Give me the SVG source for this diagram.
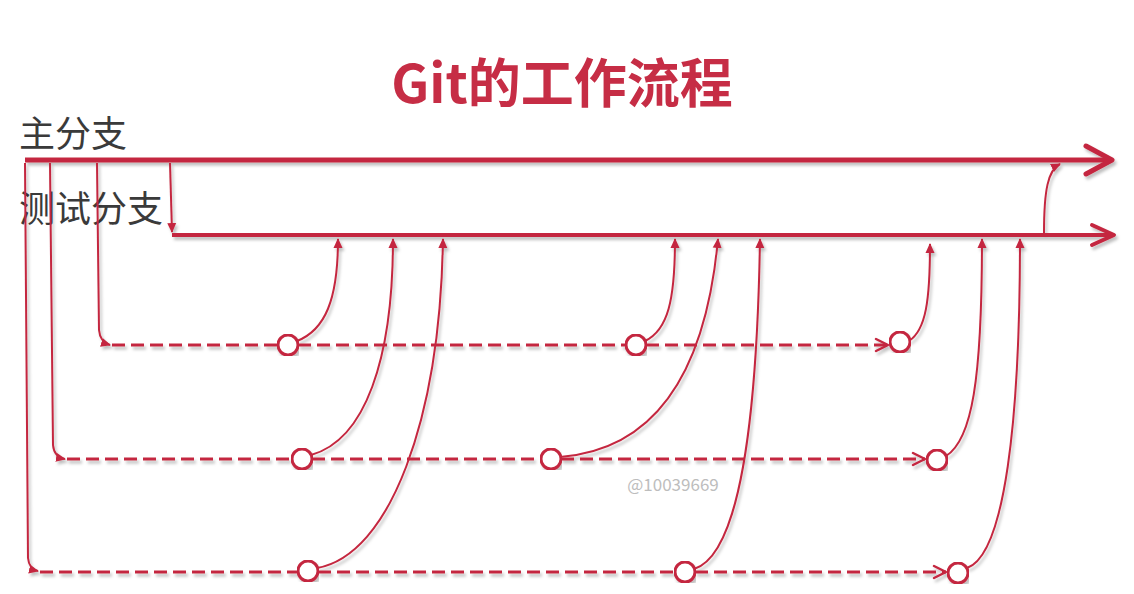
<svg xmlns="http://www.w3.org/2000/svg" width="1134" height="594" viewBox="0 0 1134 594">
<defs>
<filter id="sh" x="-5%" y="-5%" width="110%" height="110%">
<feDropShadow dx="2" dy="3" stdDeviation="1.5" flood-color="#000" flood-opacity="0.25"/>
</filter>
<marker id="big" markerWidth="40" markerHeight="40" refX="30" refY="20" markerUnits="userSpaceOnUse" orient="auto" overflow="visible">
<path d="M4,6 L30,20 L4,34" fill="none" stroke="#c4283f" stroke-width="5" stroke-linecap="round" stroke-linejoin="round"/>
</marker>
<marker id="mid" markerWidth="30" markerHeight="30" refX="26" refY="15" markerUnits="userSpaceOnUse" orient="auto" overflow="visible">
<path d="M4,5 L26,15 L4,25" fill="none" stroke="#c4283f" stroke-width="4" stroke-linecap="round" stroke-linejoin="round"/>
</marker>
<marker id="open" markerWidth="20" markerHeight="20" refX="14" refY="10" markerUnits="userSpaceOnUse" orient="auto" overflow="visible">
<path d="M2,4 L14,10 L2,16" fill="none" stroke="#c4283f" stroke-width="2.5" stroke-linecap="round" stroke-linejoin="round"/>
</marker>
<marker id="tri" markerWidth="10" markerHeight="10" refX="9" refY="5" markerUnits="userSpaceOnUse" orient="auto">
<path d="M0,0.5 L10,5 L0,9.5 z" fill="#c4283f"/>
</marker>
<style>
.t{font-family:"Noto Sans CJK SC","Noto Sans",sans-serif}
.lab{font-size:36px;fill:#3a3a3a}
.main{stroke:#c4283f;stroke-width:5;fill:none}
.test{stroke:#c4283f;stroke-width:4;fill:none}
.thin{stroke:#c4283f;stroke-width:2;fill:none}
.dash{stroke:#c4283f;stroke-width:3;fill:none;stroke-dasharray:13 6}
.node{fill:#fff;stroke:#c4283f;stroke-width:3}
</style>
</defs>
<rect width="1134" height="594" fill="#fff"/>
<text class="t" x="562" y="103" text-anchor="middle" font-size="53" font-weight="bold" fill="#c62d45">Git的工作流程</text>
<text class="t lab" x="19" y="147">主分支</text>
<text class="t lab" x="19" y="222">测试分支</text>
<text class="t" x="673" y="491" text-anchor="middle" font-size="17" fill="#bdbdbd">@10039669</text>
<g id="connectors" filter="url(#sh)">
<path class="main" d="M25,160 L1112,160" marker-end="url(#big)"/>
<path class="test" d="M172,235 L1114,235" marker-end="url(#mid)"/>
<path class="thin" d="M170,163 L172,232" marker-end="url(#tri)"/>
<path class="thin" d="M97,163 L99,330 Q100,342 110,345" marker-end="url(#tri)"/>
<path class="thin" d="M50,163 L53,445 Q54,457 65,459" marker-end="url(#tri)"/>
<path class="thin" d="M25,163 L28,558 Q29,569 38,571" marker-end="url(#tri)"/>
<path class="dash" d="M112,345 L278,345 M298,345 L626,345 M646,345 L888,345" marker-end="url(#open)"/>
<path class="dash" d="M67,459 L292,459 M312,459 L541,459 M561,459 L925,459" marker-end="url(#open)"/>
<path class="dash" d="M40,572 L298,572 M318,572 L675,572 M695,572 L946,572" marker-end="url(#open)"/>
<path class="thin" d="M297,341 C325,330 338,300 338,239" marker-end="url(#tri)"/>
<path class="thin" d="M311,455 C365,440 393,360 393,239" marker-end="url(#tri)"/>
<path class="thin" d="M317,568 C390,555 440,420 443,239" marker-end="url(#tri)"/>
<path class="thin" d="M645,341 C668,330 675,300 675,239" marker-end="url(#tri)"/>
<path class="thin" d="M560,457 C650,450 705,380 718,239" marker-end="url(#tri)"/>
<path class="thin" d="M694,569 C740,555 757,420 760,239" marker-end="url(#tri)"/>
<path class="thin" d="M909,341 C926,330 930,300 930,244" marker-end="url(#tri)"/>
<path class="thin" d="M946,456 C972,440 982,380 982,239" marker-end="url(#tri)"/>
<path class="thin" d="M967,568 C1005,555 1020,420 1020,239" marker-end="url(#tri)"/>
<path class="thin" d="M1044,233 C1044,190 1048,170 1060,164" marker-end="url(#tri)"/>
</g>
<g id="n1" filter="url(#sh)"><circle class="node" cx="288" cy="345" r="10"/></g>
<g id="n2" filter="url(#sh)"><circle class="node" cx="636" cy="345" r="10"/></g>
<g id="n3" filter="url(#sh)"><circle class="node" cx="900" cy="342" r="10"/></g>
<g id="n4" filter="url(#sh)"><circle class="node" cx="302" cy="459" r="10"/></g>
<g id="n5" filter="url(#sh)"><circle class="node" cx="551" cy="459" r="10"/></g>
<g id="n6" filter="url(#sh)"><circle class="node" cx="937" cy="460" r="10"/></g>
<g id="n7" filter="url(#sh)"><circle class="node" cx="308" cy="571" r="10"/></g>
<g id="n8" filter="url(#sh)"><circle class="node" cx="685" cy="572" r="10"/></g>
<g id="n9" filter="url(#sh)"><circle class="node" cx="958" cy="573" r="10"/></g>
</svg>
